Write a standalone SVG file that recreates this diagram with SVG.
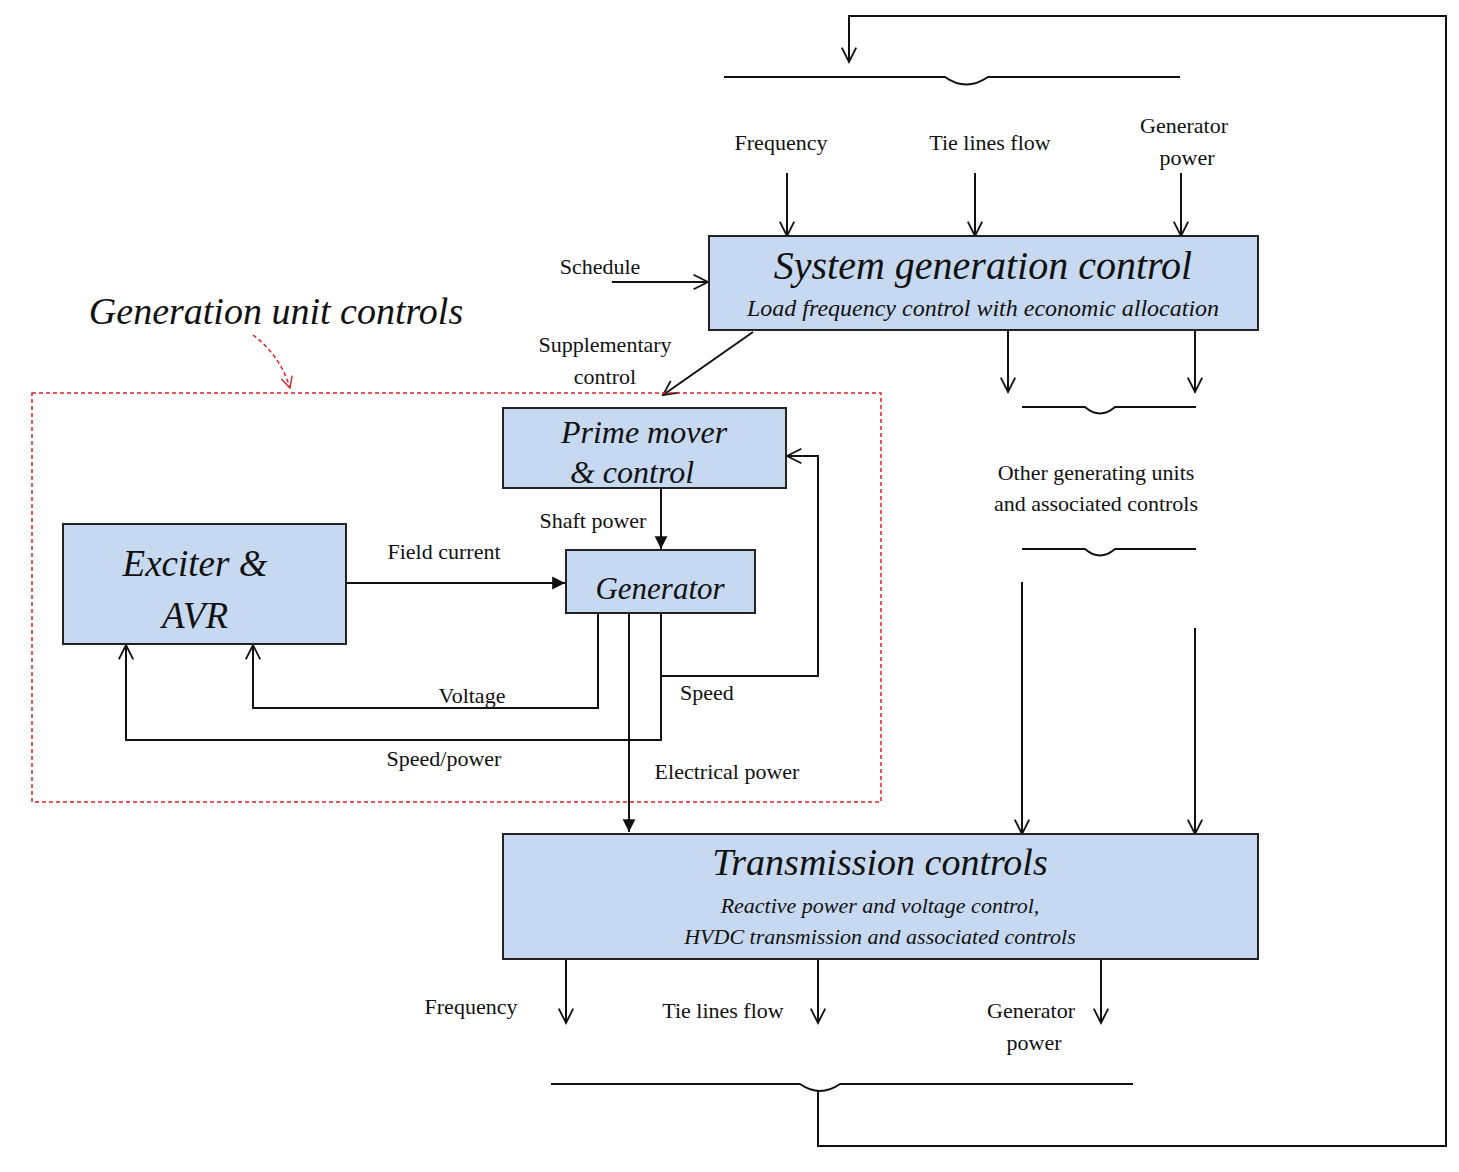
<svg xmlns="http://www.w3.org/2000/svg" width="1459" height="1172" viewBox="0 0 1459 1172">
<defs>
<style>
.box{fill:#c6d9f1;stroke:#222;stroke-width:2}
.ln{fill:none;stroke:#111;stroke-width:2}
.t{font-family:"Liberation Serif",serif;font-size:22px;fill:#111;text-anchor:middle}
.ti{font-family:"Liberation Serif",serif;font-style:italic;fill:#111;text-anchor:middle}
</style>
<marker id="o" viewBox="0 0 20 20" refX="18" refY="10" markerWidth="18" markerHeight="18" markerUnits="userSpaceOnUse" orient="auto"><path d="M2,2 L18,10 L2,18" fill="none" stroke="#111" stroke-width="2"/></marker>
<marker id="f" viewBox="0 0 20 20" refX="18" refY="10" markerWidth="16" markerHeight="16" markerUnits="userSpaceOnUse" orient="auto"><path d="M2,2 L18,10 L2,18 z" fill="#111"/></marker>
<marker id="r" viewBox="0 0 20 20" refX="18" refY="10" markerWidth="14" markerHeight="14" markerUnits="userSpaceOnUse" orient="auto"><path d="M2,2 L18,10 L2,18" fill="none" stroke="#d22" stroke-width="2"/></marker>
</defs>
<rect width="1459" height="1172" fill="#fff"/>
<g id="connectors">
<path class="ln" d="M818,1090 V1146 H1446 V16 H849 V62" marker-end="url(#o)"/>
<path class="ln" d="M724,77 H945 Q966,92 988,77 H1180"/>
<path class="ln" d="M787,173 V236" marker-end="url(#o)"/>
<path class="ln" d="M975,173 V236" marker-end="url(#o)"/>
<path class="ln" d="M1181,173 V236" marker-end="url(#o)"/>
<path class="ln" d="M612,282 H708" marker-end="url(#o)"/>
<path class="ln" d="M753,332 L663,395" marker-end="url(#o)"/>
<path d="M253,335 Q280,355 290,388" fill="none" stroke="#d22" stroke-width="1.5" stroke-dasharray="4,3" marker-end="url(#r)"/>
<path class="ln" d="M1008,330 V392" marker-end="url(#o)"/>
<path class="ln" d="M1195,330 V392" marker-end="url(#o)"/>
<path class="ln" d="M1022,407 H1085 Q1100,420 1115,407 H1196"/>
<path class="ln" d="M1022,549 H1085 Q1100,562 1115,549 H1196"/>
<path class="ln" d="M1022,582 V834" marker-end="url(#o)"/>
<path class="ln" d="M1195,628 V834" marker-end="url(#o)"/>
<path class="ln" d="M661,488 V549" marker-end="url(#f)"/>
<path class="ln" d="M346,583 H565" marker-end="url(#f)"/>
<path class="ln" d="M598,613 V708 H253 V645" marker-end="url(#o)"/>
<path class="ln" d="M661,613 V740 H126 V645" marker-end="url(#o)"/>
<path class="ln" d="M661,676 H818 V456 H787" marker-end="url(#o)"/>
<path class="ln" d="M629,613 V832" marker-end="url(#f)"/>
<path class="ln" d="M566,959 V1023" marker-end="url(#o)"/>
<path class="ln" d="M818,959 V1023" marker-end="url(#o)"/>
<path class="ln" d="M1101,959 V1023" marker-end="url(#o)"/>
<path class="ln" d="M551,1084 H800 Q820,1098 840,1084 H1133"/>
</g>
<g id="labels">
<text class="t" x="781" y="150">Frequency</text>
<text class="t" x="990" y="150">Tie lines flow</text>
<text class="t" x="1184" y="133">Generator</text>
<text class="t" x="1187" y="165">power</text>
<text class="t" x="600" y="274">Schedule</text>
<text class="t" x="605" y="352">Supplementary</text>
<text class="t" x="605" y="384">control</text>
<text class="ti" x="276" y="324" font-size="38">Generation unit controls</text>
<text class="t" x="1096" y="480">Other generating units</text>
<text class="t" x="1096" y="511">and associated controls</text>
<text class="t" x="593" y="528">Shaft power</text>
<text class="t" x="444" y="559">Field current</text>
<text class="t" x="472" y="703">Voltage</text>
<text class="t" x="707" y="700">Speed</text>
<text class="t" x="444" y="766">Speed/power</text>
<text class="t" x="727" y="779">Electrical power</text>
<text class="t" x="471" y="1014">Frequency</text>
<text class="t" x="723" y="1018">Tie lines flow</text>
<text class="t" x="1031" y="1018">Generator</text>
<text class="t" x="1034" y="1050">power</text>
</g>
<rect x="32" y="393" width="849" height="409" fill="none" stroke="#d22" stroke-width="1.5" stroke-dasharray="4,3"/>
<g id="sgc">
<rect class="box" x="709" y="236" width="549" height="94"/>
<text class="ti" x="983" y="279" font-size="40">System generation control</text>
<text class="ti" x="983" y="316" font-size="24">Load frequency control   with economic allocation</text>
</g>
<g id="prime">
<rect class="box" x="503" y="408" width="283" height="80"/>
<text class="ti" x="644" y="443" font-size="32">Prime mover</text>
<text class="ti" x="632" y="483" font-size="32">&amp; control</text>
</g>
<g id="exciter">
<rect class="box" x="63" y="524" width="283" height="120"/>
<text class="ti" x="195" y="576" font-size="37">Exciter &amp;</text>
<text class="ti" x="195" y="628" font-size="37">AVR</text>
</g>
<g id="generator">
<rect class="box" x="566" y="550" width="189" height="63"/>
<text class="ti" x="660" y="599" font-size="31">Generator</text>
</g>
<g id="transmission">
<rect class="box" x="503" y="834" width="755" height="125"/>
<text class="ti" x="880" y="875" font-size="38">Transmission controls</text>
<text class="ti" x="880" y="913" font-size="22">Reactive power and voltage control,</text>
<text class="ti" x="880" y="944" font-size="22">HVDC transmission and associated controls</text>
</g>
</svg>
